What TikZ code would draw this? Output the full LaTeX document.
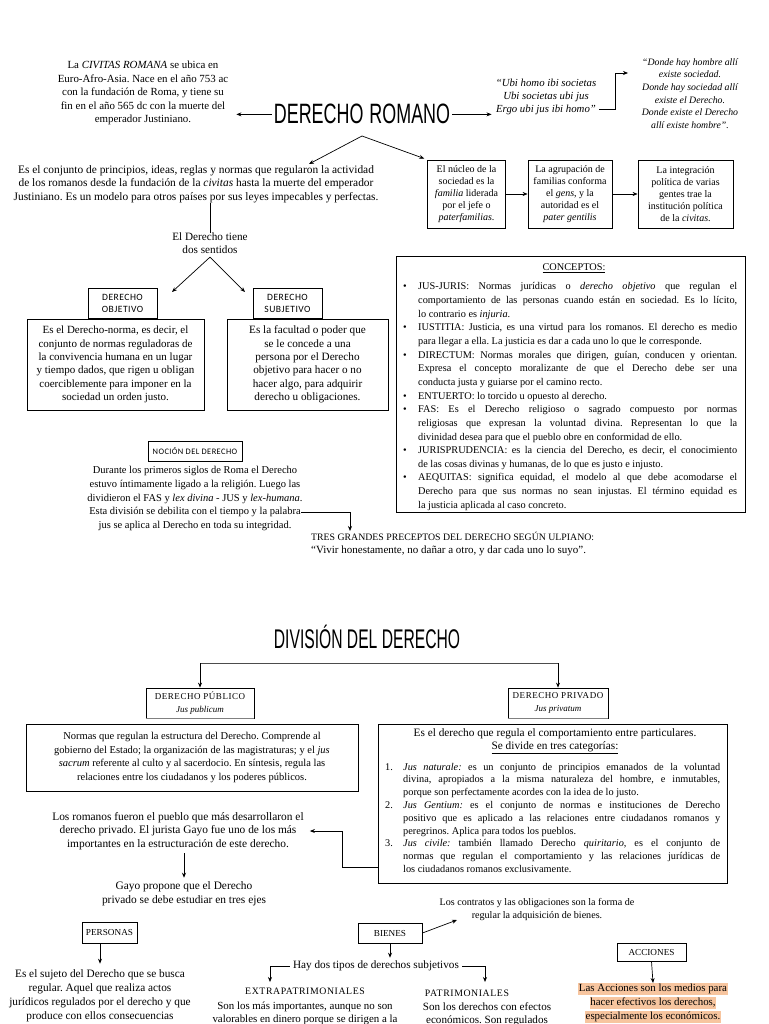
\documentclass[tikz,border=0pt]{standalone}
\usepackage{fontspec}
\setmainfont{Liberation Serif}
\newfontfamily\titlefont[FakeStretch=0.64]{Liberation Sans}
\newfontfamily\titlefontB[FakeStretch=0.58]{Liberation Sans}
\newfontfamily\calfont[LetterSpace=5]{Carlito}
\newfontfamily\spserif[LetterSpace=6]{Liberation Serif}
\usetikzlibrary{arrows.meta,calc}
\definecolor{hlc}{HTML}{F7C59F}
\newcommand\hlt[1]{{\setlength{\fboxsep}{0.6pt}\colorbox{hlc}{\rule[-2.8pt]{0pt}{10pt}#1}}}
\newcommand\citem{\par\noindent\hangindent=15pt\hangafter=1\hbox to 15pt{\textbullet\hfil}}
\newcommand\nitem[1]{\par\noindent\hangindent=18pt\hangafter=1\hbox to 18pt{#1\hfil}}
\frenchspacing
\begin{document}
\frenchspacing
\begin{tikzpicture}[x=1pt,y=-1pt,
  body/.style={font=\fontsize{10.3}{13.4}\selectfont, inner sep=0pt, align=center},
  boxd/.style={draw, line width=0.8pt, inner sep=0pt, align=center},
  arr/.style={-{Stealth[length=5pt,width=4pt]}, line width=0.7pt},
  ln/.style={line width=0.7pt}]
\useasboundingbox (0,0) rectangle (768,1024);
\fill[white] (0,0) rectangle (768,1024);
\clip (0,0) rectangle (768,1024);

% ---------- top ----------
\node[body, font=\frenchspacing\fontsize{10.9}{13.4}\selectfont] (civ) at (143,93) {La \textit{CIVITAS ROMANA} se ubica en\\Euro-Afro-Asia. Nace en el año 753 ac\\con la fundación de Roma, y tiene su\\fin en el año 565 dc con la muerte del\\emperador Justiniano.};
\node[anchor=base, font=\titlefont\fontsize{28}{30}\selectfont, inner sep=0pt] (title) at (362,124) {DERECHO\hspace{6pt}ROMANO};
\node[body, font=\itshape\fontsize{10.8}{13.2}\selectfont] (ubi) at (546,97) {“Ubi homo ibi societas\\Ubi societas ubi jus\\Ergo ubi jus ibi homo”};
\node[body, font=\itshape\fontsize{9.8}{12.6}\selectfont] (donde) at (690,93.5) {“Donde hay hombre allí\\existe sociedad.\\Donde hay sociedad allí\\existe el Derecho.\\Donde existe el Derecho\\allí existe hombre”.};

\draw[arr] ([xshift=-2pt]title.west) -- ($(title.west -| civ.east)+(8,0)$);
\draw[arr] ([xshift=2pt]title.east) -- ($(title.east -| ubi.west)+(-4,0)$);
\coordinate (ubiend) at ($(ubi.south east)+(3,-6)$);
\coordinate (dondein) at (628,73);
\draw[arr] (ubiend) -- ++(16,0) |- (dondein);

% three boxes
\node[boxd, minimum width=78, minimum height=68, font=\fontsize{10}{11.8}\selectfont] (fam) at (466.5,194) {El núcleo de la\\sociedad es la\\\textit{familia} liderada\\por el jefe o\\\textit{paterfamilias}.};
\node[boxd, minimum width=84, minimum height=68, font=\fontsize{10}{11.8}\selectfont] (gens) at (570,194) {La agrupación de\\familias conforma\\el \textit{gens}, y la\\autoridad es el\\\textit{pater gentilis}};
\node[boxd, minimum width=95, minimum height=68, font=\fontsize{10}{11.8}\selectfont] (civs) at (685.5,194) {La integración\\política de varias\\gentes trae la\\institución política\\de la \textit{civitas}.};
\draw[arr] (fam.east) -- (gens.west);
\draw[arr] (gens.east) -- (civs.west);

\coordinate (apex) at (362,136);
\coordinate (conjtip) at (309,164);
\draw[arr] (apex) -- (conjtip);
\draw[arr, shorten >=3pt] (apex) -- (fam.north west);

\node[body, font=\fontsize{11.4}{13.3}\selectfont] (conj) at (196,184) {Es el conjunto de principios, ideas, reglas y normas que regularon la actividad\\de los romanos desde la fundación de la \textit{civitas} hasta la muerte del emperador\\Justiniano. Es un modelo para otros países por sus leyes impecables y perfectas.};
\node[body, font=\fontsize{11.2}{13}\selectfont] (sent) at (210,243.5) {El Derecho tiene\\dos sentidos};
\draw[ln] (conj.south -| sent.north) -- (sent.north);
\coordinate (apex2) at ($(sent.south)+(0,3)$);
\coordinate (objtip) at (172,292);
\coordinate (subtip) at (245,292);
\draw[arr] (apex2) -- (objtip);
\draw[arr] (apex2) -- (subtip);

\node[boxd, font=\calfont\fontsize{9.6}{12}\selectfont, minimum width=69, minimum height=30] (obj) at (122.5,303) {DERECHO\\OBJETIVO};
\node[boxd, font=\calfont\fontsize{9.6}{12}\selectfont, minimum width=69, minimum height=30] (sub) at (287.5,303) {DERECHO\\SUBJETIVO};
\node[boxd, font=\fontsize{11}{13.3}\selectfont, minimum width=177, minimum height=91] (objt) at (115.5,364.5) {Es el Derecho-norma, es decir, el\\conjunto de normas reguladoras de\\la convivencia humana en un lugar\\y tiempo dados, que rigen u obligan\\coerciblemente para imponer en la\\sociedad un orden justo.};
\node[boxd, font=\fontsize{11.2}{13.3}\selectfont, minimum width=161, minimum height=91] (subt) at (307.5,364.5) {Es la facultad o poder que\\se le concede a una\\persona por el Derecho\\objetivo para hacer o no\\hacer algo, para adquirir\\derecho u obligaciones.};

% conceptos
\node[draw, line width=0.8pt, inner sep=0pt, minimum width=349, minimum height=256] (concbox) at (570.5,384) {};
\node[inner sep=0pt, font=\fontsize{10.3}{13}\selectfont] (conct) at (574,268) {\underline{CONCEPTOS:}};
\node[anchor=north west, inner sep=0pt, text width=334pt, align=justify, font=\frenchspacing\fontsize{10.3}{13.65}\selectfont] (concs) at (403,276) {%
\citem JUS-JURIS: Normas jurídicas o \textit{derecho objetivo} que regulan el\linebreak comportamiento de las personas cuando están en sociedad. Es lo lícito,\linebreak lo contrario es \textit{injuria}.
\citem IUSTITIA: Justicia, es una virtud para los romanos. El derecho es medio\linebreak para llegar a ella. La justicia es dar a cada uno lo que le corresponde.
\citem DIRECTUM: Normas morales que dirigen, guían, conducen y orientan.\linebreak Expresa el concepto moralizante de que el Derecho debe ser una\linebreak conducta justa y guiarse por el camino recto.
\citem ENTUERTO: lo torcido u opuesto al derecho.
\citem FAS: Es el Derecho religioso o sagrado compuesto por normas\linebreak religiosas que expresan la voluntad divina. Representan lo que la\linebreak divinidad desea para que el pueblo obre en conformidad de ello.
\citem JURISPRUDENCIA: es la ciencia del Derecho, es decir, el conocimiento\linebreak de las cosas divinas y humanas, de lo que es justo e injusto.
\citem AEQUITAS: significa equidad, el modelo al que debe acomodarse el\linebreak Derecho para que sus normas no sean injustas. El término equidad es\linebreak la justicia aplicada al caso concreto.\par};

% nocion
\node[boxd, font=\calfont\fontsize{8.4}{10}\selectfont, minimum width=94, minimum height=20] (noc) at (195,451) {NOCIÓN DEL DERECHO};
\node[body, font=\fontsize{10.5}{13.7}\selectfont] (dur) at (195,498.5) {Durante los primeros siglos de Roma el Derecho\\estuvo íntimamente ligado a la religión. Luego las\\dividieron el FAS y \textit{lex divina} - JUS y \textit{lex-humana}.\\Esta división se debilita con el tiempo y la palabra\\jus se aplica al Derecho en toda su integridad.};
\node[anchor=west, inner sep=0pt, align=left, font=\fontsize{9.8}{13.6}\selectfont] (tres) at (311,544) {TRES GRANDES PRECEPTOS DEL DERECHO SEGÚN ULPIANO:\\{\fontsize{11}{13.6}\selectfont “Vivir honestamente, no dañar a otro, y dar cada uno lo suyo”.}};
\coordinate (durend) at (301,512);
\coordinate (trestip) at (350,531);
\draw[arr] (durend) -| (trestip);

% ---------- division ----------
\node[anchor=base, font=\titlefontB\fontsize{27}{30}\selectfont, inner sep=0pt] (div) at (367,648) {DIVISIÓN DEL DERECHO};
\node[boxd, minimum width=108, minimum height=30, font=\fontsize{9}{12.5}\selectfont] (pub) at (200,703) {{\spserif DERECHO PÚBLICO}\\\textit{Jus publicum}};
\node[boxd, minimum width=100, minimum height=30, font=\fontsize{9}{12.5}\selectfont] (priv) at (558,703) {{\spserif DERECHO PRIVADO}\\\textit{Jus privatum}};
\draw[gray, line width=1.6pt] (pub.south west) -- (pub.south east);
\draw[gray, line width=1.6pt] (priv.south west) -- (priv.south east);
\coordinate (divbar) at (380,663);
\draw[line width=1pt, black!70] (divbar -| pub.north) -- (divbar -| priv.north);
\draw[arr] (divbar -| pub.north) -- (pub.north);
\draw[arr] (divbar -| priv.north) -- (priv.north);

\node[boxd, font=\fontsize{10.5}{13.4}\selectfont, minimum width=332, minimum height=67] (pubt) at (192,757.5) {Normas que regulan la estructura del Derecho. Comprende al\\gobierno del Estado; la organización de las magistraturas; y el \textit{jus}\\\textit{sacrum} referente al culto y al sacerdocio. En síntesis, regula las\\relaciones entre los ciudadanos y los poderes públicos.};

\node[draw, line width=0.8pt, inner sep=0pt, minimum width=349, minimum height=159] (privb) at (552.5,803.5) {};
\node[body, font=\fontsize{11.3}{12.9}\selectfont] (privh) at (555,741.5) {Es el derecho que regula el comportamiento entre particulares.\\\underline{Se divide en tres categorías:}};
\node[anchor=north west, inner sep=0pt, text width=335pt, align=justify, font=\frenchspacing\fontsize{10.3}{12.8}\selectfont] (privi) at (385,757) {%
\nitem{1.}\textit{Jus naturale:} es un conjunto de principios emanados de la voluntad\linebreak divina, apropiados a la misma naturaleza del hombre, e inmutables,\linebreak porque son perfectamente acordes con la idea de lo justo.
\nitem{2.}\textit{Jus Gentium:} es el conjunto de normas e instituciones de Derecho\linebreak positivo que es aplicado a las relaciones entre ciudadanos romanos y\linebreak peregrinos. Aplica para todos los pueblos.
\nitem{3.}\textit{Jus civile:} también llamado Derecho \textit{quiritario}, es el conjunto de\linebreak normas que regulan el comportamiento y las relaciones jurídicas de\linebreak los ciudadanos romanos exclusivamente.\par};

\node[body, font=\fontsize{11.4}{13.8}\selectfont] (losrom) at (178,831) {Los romanos fueron el pueblo que más desarrollaron el\\derecho privado. El jurista Gayo fue uno de los más\\importantes en la estructuración de este derecho.};
\coordinate (privout) at ($(privb.south west)+(0,-16)$);
\draw[arr] (privout) -- ++(-35,0) |- ([xshift=6pt]losrom.east);
\node[body, font=\fontsize{11.4}{13.8}\selectfont] (gayo) at (184,894) {Gayo propone que el Derecho\\privado se debe estudiar en tres ejes};
\draw[arr] ([yshift=-3pt]losrom.south -| gayo.north) -- ([yshift=4pt]gayo.north);

% personas
\node[boxd, minimum width=55, minimum height=21, font=\fontsize{9.2}{11}\selectfont] (pers) at (109.5,932.5) {PERSONAS};
\node[body, font=\fontsize{11.3}{14}\selectfont] (perst) at (100,996) {Es el sujeto del Derecho que se busca\\regular. Aquel que realiza actos\\jurídicos regulados por el derecho y que\\produce con ellos consecuencias};
\draw[arr] (pers.south -| perst.north) -- ([yshift=6pt]perst.north);

% bienes
\node[boxd, minimum width=64, minimum height=20, font=\fontsize{9.2}{11}\selectfont] (bien) at (390,933) {BIENES};
\node[body, font=\fontsize{11.2}{13}\selectfont] (hay) at (376,966) {Hay dos tipos de derechos subjetivos};
\draw[arr] (bien.south) -- ([yshift=3pt]bien.south |- hay.north);
\node[body, font=\fontsize{10.1}{13}\selectfont] (cont) at (537,909.5) {Los contratos y las obligaciones son la forma de\\regular la adquisición de bienes.};
\coordinate (conttip) at (457,920);
\draw[arr] (bien.east) -- (conttip);
\coordinate (extip) at (270,982);
\coordinate (patip) at (485,982);
\draw[arr] ([xshift=-3pt]hay.west) -| (extip);
\draw[arr] ([xshift=3pt]hay.east) -| (patip);
\node[body, font=\spserif\fontsize{9.8}{12}\selectfont] (extl) at (305,991.5) {EXTRAPATRIMONIALES};
\node[body, font=\fontsize{10.9}{13.2}\selectfont] (extt) at (305,1013.5) {Son los más importantes, aunque no son\\valorables en dinero porque se dirigen a la};
\node[body, font=\spserif\fontsize{9.8}{12}\selectfont] (patl) at (467,993) {PATRIMONIALES};
\node[body, font=\fontsize{11.1}{13.2}\selectfont] (patt) at (487,1014) {Son los derechos con efectos\\económicos. Son regulados};

% acciones
\node[boxd, minimum width=69, minimum height=18, font=\fontsize{9.2}{11}\selectfont] (acc) at (651.5,952) {ACCIONES};
\node[body, font=\fontsize{10.9}{14}\selectfont] (acct) at (653,1003) {\hlt{Las Acciones son los medios para}\\\hlt{hacer efectivos los derechos,}\\\hlt{especialmente los económicos.}};
\draw[arr] (acc.south) -- (acct.north);
\end{tikzpicture}
\end{document}
